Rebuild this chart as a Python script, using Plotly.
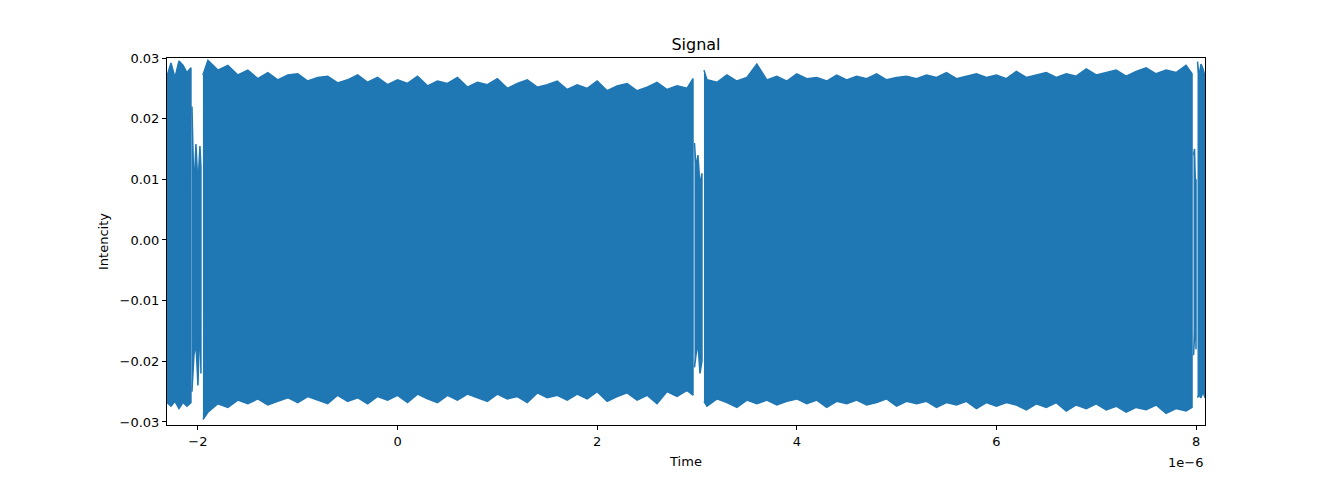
import plotly.graph_objects as go

# envelope of the signal
# time in 1e-6 s, intensity in 1e-3; the signal has three short dropouts
seg1_t = [-2.31, -2.27, -2.23, -2.19, -2.15, -2.11, -2.07]
seg1_up = [27.0, 29.2, 26.8, 29.5, 28.8, 27.6, 28.4]
seg1_lo = [-26.8, -27.4, -26.6, -27.8, -26.8, -27.4, -26.8]

gap1_t = [-2.06, -2.04, -2.02, -2.0, -1.98, -1.97]
gap1_up = [22.0, 8.0, 15.8, 9.0, 15.5, 12.0]
gap1_lo = [-25.0, -19.0, -17.0, -24.0, -13.0, -22.0]

seg2_t = [-1.95, -1.9, -1.8, -1.7, -1.6, -1.5, -1.4, -1.3, -1.2, -1.1,
          -1.0, -0.9, -0.8, -0.7, -0.6, -0.5, -0.4, -0.3, -0.2, -0.1,
          0.0, 0.1, 0.2, 0.3, 0.4, 0.5, 0.6, 0.7, 0.8, 0.9,
          1.0, 1.1, 1.2, 1.3, 1.4, 1.5, 1.6, 1.7, 1.8, 1.9,
          2.0, 2.1, 2.2, 2.3, 2.4, 2.5, 2.6, 2.7, 2.8, 2.9, 2.96]
seg2_up = [27.2, 29.6, 28.0, 28.8, 27.2, 28.0, 26.6, 27.6, 26.4, 27.2,
           27.4, 26.2, 26.8, 27.0, 25.9, 26.4, 27.2, 26.0, 26.8, 25.6,
           26.4, 25.8, 27.0, 25.4, 26.2, 25.8, 26.8, 25.2, 26.0, 25.6,
           26.6, 25.0, 25.8, 26.4, 25.2, 25.6, 26.2, 24.8, 25.6, 25.0,
           26.2, 24.6, 25.4, 25.8, 24.6, 25.2, 26.0, 24.8, 25.4, 25.0, 26.6]
seg2_lo = [-29.6, -28.4, -27.0, -27.6, -26.4, -27.0, -26.2, -27.2, -26.6, -26.0,
           -26.8, -25.8, -26.4, -27.0, -25.6, -26.6, -26.0, -27.0, -25.8, -26.4,
           -25.6, -26.8, -25.4, -26.2, -26.8, -25.6, -26.4, -25.4, -26.0, -26.6,
           -25.4, -26.2, -25.8, -26.8, -25.2, -26.0, -25.6, -26.4, -25.4, -26.2,
           -25.0, -26.6, -25.8, -25.2, -26.4, -25.6, -27.0, -25.0, -25.8, -24.8, -25.6]

gap2_t = [2.975, 2.99, 3.01, 3.03, 3.05]
gap2_up = [16.0, 12.0, 14.0, 9.0, 11.0]
gap2_lo = [-21.0, -19.0, -17.0, -22.0, -20.0]

seg3_t = [3.07, 3.1, 3.2, 3.3, 3.4, 3.5, 3.6, 3.7, 3.8, 3.9,
          4.0, 4.1, 4.2, 4.3, 4.4, 4.5, 4.6, 4.7, 4.8, 4.9,
          5.0, 5.1, 5.2, 5.3, 5.4, 5.5, 5.6, 5.7, 5.8, 5.9,
          6.0, 6.1, 6.2, 6.3, 6.4, 6.5, 6.6, 6.7, 6.8, 6.9,
          7.0, 7.1, 7.2, 7.3, 7.4, 7.5, 7.6, 7.7, 7.8, 7.9, 7.96]
seg3_up = [28.0, 26.4, 26.0, 27.2, 26.2, 26.8, 29.0, 26.4, 27.0, 26.2,
           27.4, 26.6, 26.8, 26.2, 27.2, 26.4, 27.0, 26.6, 27.4, 26.4,
           26.8, 27.0, 26.6, 27.2, 26.8, 27.6, 26.6, 27.0, 27.4, 26.8,
           27.2, 26.6, 27.8, 26.8, 27.2, 27.6, 26.8, 27.4, 27.0, 28.2,
           27.2, 27.6, 28.0, 27.0, 27.8, 28.4, 27.4, 28.0, 27.6, 28.8, 27.4]
seg3_lo = [-26.6, -27.4, -26.2, -26.8, -27.6, -26.4, -27.0, -26.4, -27.2, -26.6,
           -26.2, -27.0, -26.4, -27.6, -26.6, -27.0, -26.4, -27.2, -26.8, -26.2,
           -27.4, -26.6, -27.0, -26.6, -27.6, -26.8, -27.2, -26.6, -27.8, -26.8,
           -27.4, -26.8, -27.2, -28.0, -27.0, -27.6, -26.8, -28.2, -27.2, -27.8,
           -27.0, -28.0, -27.4, -28.4, -27.6, -28.0, -27.2, -28.6, -27.8, -28.2, -27.6]

gap3_t = [7.975, 7.985, 7.995, 8.0]
gap3_up = [14.0, 15.0, 8.0, 10.0]
gap3_lo = [-19.0, -16.0, -12.0, -18.0]

seg4_t = [8.015, 8.03, 8.05, 8.07, 8.09]
seg4_up = [29.4, 27.0, 29.0, 28.2, 27.0]
seg4_lo = [-26.0, -25.6, -26.0, -25.0, -26.0]

BLUE = "#1f77b4"

segments = [
    (seg1_t, seg1_up, seg1_lo), (gap1_t, gap1_up, gap1_lo),
    (seg2_t, seg2_up, seg2_lo), (gap2_t, gap2_up, gap2_lo),
    (seg3_t, seg3_up, seg3_lo), (gap3_t, gap3_up, gap3_lo),
    (seg4_t, seg4_up, seg4_lo),
]

fig = go.Figure()
for t, up, lo in segments:
    xs = t + t[::-1]
    ys = [v * 1e-3 for v in up] + [v * 1e-3 for v in lo[::-1]]
    fig.add_trace(go.Scatter(
        x=xs, y=ys, mode="lines", fill="toself", fillcolor=BLUE,
        line=dict(color=BLUE, width=1.5), hoverinfo="skip", showlegend=False,
    ))

axis_common = dict(
    showgrid=False, zeroline=False, showline=True, linecolor="black", linewidth=1,
    mirror=True, ticks="outside", ticklen=4, tickcolor="black", automargin=False,
    tickfont=dict(family="DejaVu Sans", size=13, color="black"),
)

fig.update_layout(
    width=1339, height=480,
    margin=dict(l=159, r=142, t=50, b=63),
    paper_bgcolor="white", plot_bgcolor="white",
    font=dict(family="DejaVu Sans", size=13, color="black"),
    title=dict(text="Signal", x=0.5138, xanchor="center", y=0.925, yanchor="middle",
               font=dict(size=16)),
    xaxis=dict(axis_common, range=[-2.31, 8.09], tickvals=[-2, 0, 2, 4, 6, 8],
               title=dict(text="Time", standoff=9, font=dict(size=13))),
    yaxis=dict(axis_common, range=[-0.0305, 0.0300],
               tickvals=[-0.03, -0.02, -0.01, 0, 0.01, 0.02, 0.03], tickformat=".2f",
               title=dict(text="Intencity", standoff=8, font=dict(size=13))),
    annotations=[dict(text="1e\u22126", xref="paper", yref="paper", x=1, y=-0.075,
                      xanchor="right", yanchor="top", showarrow=False, font=dict(size=13))],
)

fig.write_html("out.html")
